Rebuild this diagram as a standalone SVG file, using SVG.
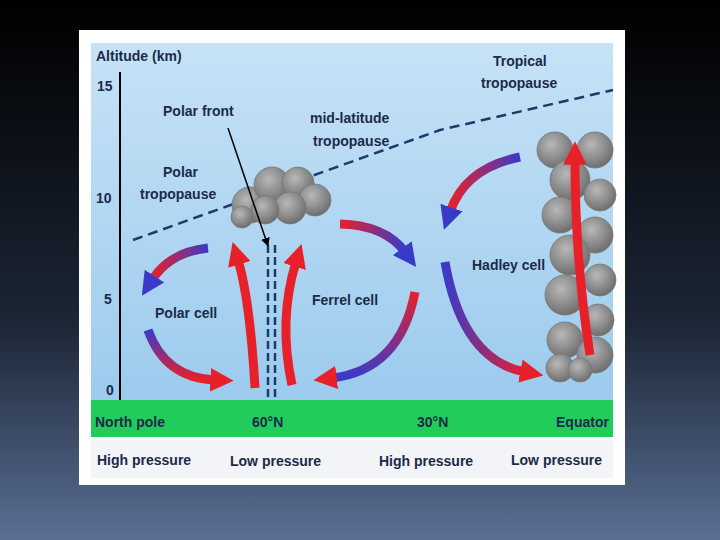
<svg xmlns="http://www.w3.org/2000/svg" width="720" height="540" viewBox="0 0 720 540">
<defs>
<linearGradient id="bg" x1="0" y1="0" x2="0" y2="1"><stop offset="0" stop-color="#000"/><stop offset="0.6" stop-color="#1c2636"/><stop offset="1" stop-color="#5a6f94"/></linearGradient>
<linearGradient id="sky" x1="0" y1="0" x2="0" y2="1"><stop offset="0" stop-color="#c6e2f6"/><stop offset="1" stop-color="#9ccbee"/></linearGradient>
<linearGradient id="rb" x1="0" y1="0" x2="1" y2="0"><stop offset="0" stop-color="#e8202a"/><stop offset="1" stop-color="#3a3ac8"/></linearGradient>
<linearGradient id="br" x1="0" y1="0" x2="1" y2="0"><stop offset="0" stop-color="#3a3ac8"/><stop offset="1" stop-color="#e8202a"/></linearGradient>
<linearGradient id="rbv" x1="0" y1="0" x2="0" y2="1"><stop offset="0" stop-color="#e8202a"/><stop offset="1" stop-color="#3a3ac8"/></linearGradient>
<linearGradient id="brv" x1="0" y1="0" x2="0" y2="1"><stop offset="0" stop-color="#3a3ac8"/><stop offset="1" stop-color="#e8202a"/></linearGradient>
<radialGradient id="cl" cx="0.4" cy="0.35" r="0.7"><stop offset="0" stop-color="#b8b8b8"/><stop offset="1" stop-color="#6a6a6a"/></radialGradient>
<marker id="hb" viewBox="0 0 10 10" refX="2" refY="5" markerWidth="2.6" markerHeight="2.6" orient="auto" markerUnits="strokeWidth"><path d="M0,0 L10,5 L0,10 z" fill="#3a3ac8"/></marker>
<marker id="hr" viewBox="0 0 10 10" refX="2" refY="5" markerWidth="2.6" markerHeight="2.6" orient="auto" markerUnits="strokeWidth"><path d="M0,0 L10,5 L0,10 z" fill="#e8202a"/></marker>
<marker id="thin" viewBox="0 0 10 10" refX="9" refY="5" markerWidth="6" markerHeight="6" orient="auto"><path d="M0,0 L10,5 L0,10 z" fill="#000"/></marker>
<style>
text{font-family:"Liberation Sans",Arial,sans-serif;font-weight:bold;fill:#1c2a4a;font-size:14px}
.a{fill:none;stroke-width:9;stroke-linecap:butt}
.c{fill:url(#cl);stroke:#777;stroke-width:0.8}
</style>
</defs>
<rect width="720" height="540" fill="url(#bg)"/>
<rect x="79" y="30" width="546" height="455" fill="#fff"/>
<rect x="91" y="43" width="522" height="357" fill="url(#sky)"/>
<rect x="91" y="400" width="522" height="37" fill="#22cc5a"/>
<rect x="91" y="440" width="522" height="38" fill="#f2f4f8"/>
<g id="axis"><line x1="120" y1="72" x2="120" y2="400" stroke="#000" stroke-width="2"/>
<text x="96" y="61" font-size="13">Altitude (km)</text>
<text x="97" y="91">15</text><text x="96" y="203">10</text><text x="104" y="304">5</text><text x="106" y="395">0</text></g>
<g id="tropopause"><path d="M133,240 L440,130 L613,90" fill="none" stroke="#1c3a6a" stroke-width="2.5" stroke-dasharray="10,6"/></g>
<g id="clouds">
<circle class="c" cx="250" cy="205" r="18"/><circle class="c" cx="272" cy="185" r="18"/><circle class="c" cx="298" cy="183" r="16"/><circle class="c" cx="315" cy="200" r="16"/><circle class="c" cx="290" cy="208" r="16"/><circle class="c" cx="265" cy="210" r="14"/><circle class="c" cx="242" cy="217" r="11"/>
<circle class="c" cx="555" cy="150" r="18"/><circle class="c" cx="595" cy="150" r="18"/><circle class="c" cx="570" cy="180" r="20"/><circle class="c" cx="600" cy="195" r="16"/><circle class="c" cx="560" cy="215" r="18"/><circle class="c" cx="595" cy="235" r="18"/><circle class="c" cx="570" cy="255" r="20"/><circle class="c" cx="600" cy="280" r="16"/><circle class="c" cx="565" cy="295" r="20"/><circle class="c" cx="598" cy="320" r="16"/><circle class="c" cx="565" cy="340" r="18"/><circle class="c" cx="595" cy="355" r="18"/><circle class="c" cx="560" cy="368" r="14"/><circle class="c" cx="580" cy="370" r="12"/>
</g>
<g id="front"><line x1="268" y1="245" x2="268" y2="400" stroke="#1c3a6a" stroke-width="2.5" stroke-dasharray="8,4"/><line x1="275" y1="245" x2="275" y2="400" stroke="#1c3a6a" stroke-width="2.5" stroke-dasharray="8,4"/></g>
<g id="connectors">
<line x1="228" y1="128" x2="268" y2="246" stroke="#000" stroke-width="1.5" marker-end="url(#thin)"/>
<path class="a" d="M208,248 Q170,252 152,280" stroke="url(#rb)" marker-end="url(#hb)"/>
<path class="a" d="M148,330 Q165,378 215,380" stroke="url(#brv)" marker-end="url(#hr)"/>
<path class="a" d="M255,388 Q250,300 238,260" stroke="#e8202a" marker-end="url(#hr)"/>
<path class="a" d="M292,385 Q278,320 296,262" stroke="#e8202a" marker-end="url(#hr)"/>
<path class="a" d="M340,224 Q385,225 405,252" stroke="url(#rb)" marker-end="url(#hb)"/>
<path class="a" d="M415,292 Q400,370 332,378" stroke="url(#rbv)" marker-end="url(#hr)"/>
<path class="a" d="M520,157 Q465,168 450,212" stroke="url(#rb)" marker-end="url(#hb)"/>
<path class="a" d="M445,262 Q462,360 525,372" stroke="url(#br)" marker-end="url(#hr)"/>
<path class="a" d="M590,355 Q575,260 575,160" stroke="#e8202a" marker-end="url(#hr)"/>
</g>
<g id="labels">
<text x="163" y="116">Polar front</text>
<text x="310" y="123">mid-latitude</text><text x="313" y="146">tropopause</text>
<text x="493" y="66">Tropical</text><text x="481" y="88">tropopause</text>
<text x="163" y="177">Polar</text><text x="140" y="199">tropopause</text>
<text x="472" y="270" font-size="15">Hadley cell</text>
<text x="312" y="305" font-size="15">Ferrel cell</text>
<text x="155" y="318" font-size="15">Polar cell</text>
<text x="95" y="427">North pole</text><text x="252" y="427">60°N</text><text x="417" y="427">30°N</text><text x="556" y="427">Equator</text>
<text x="97" y="465">High pressure</text><text x="230" y="466">Low pressure</text><text x="379" y="466">High pressure</text><text x="511" y="465">Low pressure</text>
</g>
</svg>
